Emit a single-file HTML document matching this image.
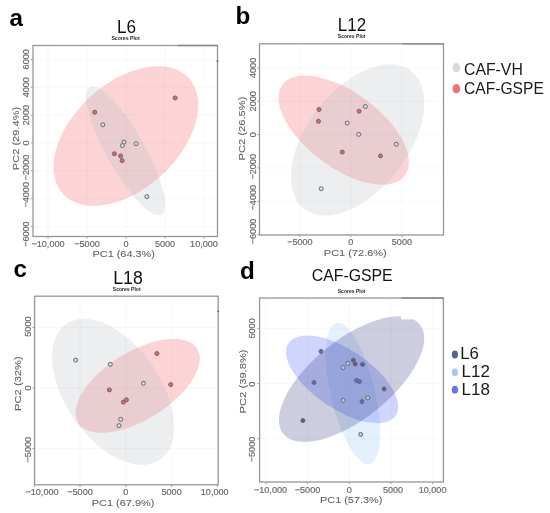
<!DOCTYPE html>
<html><head><meta charset="utf-8"><style>
html,body{margin:0;padding:0;background:#fff;}
svg{display:block;font-family:"Liberation Sans", sans-serif;filter:blur(0.35px);}
</style></head><body>
<svg width="550" height="513" viewBox="0 0 550 513">
<rect width="550" height="513" fill="#fff"/>
<ellipse cx="125.88" cy="136.02" rx="85.55" ry="52.98" transform="rotate(-42.70 125.88 136.02)" fill="#fdd4d6" /><ellipse cx="125.70" cy="150.70" rx="73.17" ry="19.35" transform="rotate(60.77 125.70 150.70)" fill="#eceef0" /><clipPath id="ca"><ellipse cx="125.88" cy="136.02" rx="85.55" ry="52.98" transform="rotate(-42.70 125.88 136.02)" fill="#000" /></clipPath><g clip-path="url(#ca)"><ellipse cx="125.70" cy="150.70" rx="73.17" ry="19.35" transform="rotate(60.77 125.70 150.70)" fill="#eacdd1" /></g>
<line x1="48.00" y1="45.5" x2="48.00" y2="236.5" stroke="rgba(110,110,110,0.055)" stroke-width="0.9"/>
<line x1="87.00" y1="45.5" x2="87.00" y2="236.5" stroke="rgba(110,110,110,0.055)" stroke-width="0.9"/>
<line x1="126.00" y1="45.5" x2="126.00" y2="236.5" stroke="rgba(110,110,110,0.055)" stroke-width="0.9"/>
<line x1="165.00" y1="45.5" x2="165.00" y2="236.5" stroke="rgba(110,110,110,0.055)" stroke-width="0.9"/>
<line x1="204.00" y1="45.5" x2="204.00" y2="236.5" stroke="rgba(110,110,110,0.055)" stroke-width="0.9"/>
<line x1="33" y1="59.30" x2="217.5" y2="59.30" stroke="rgba(110,110,110,0.055)" stroke-width="0.9"/>
<line x1="33" y1="87.20" x2="217.5" y2="87.20" stroke="rgba(110,110,110,0.055)" stroke-width="0.9"/>
<line x1="33" y1="115.10" x2="217.5" y2="115.10" stroke="rgba(110,110,110,0.055)" stroke-width="0.9"/>
<line x1="33" y1="143.00" x2="217.5" y2="143.00" stroke="rgba(110,110,110,0.055)" stroke-width="0.9"/>
<line x1="33" y1="170.90" x2="217.5" y2="170.90" stroke="rgba(110,110,110,0.055)" stroke-width="0.9"/>
<line x1="33" y1="198.80" x2="217.5" y2="198.80" stroke="rgba(110,110,110,0.055)" stroke-width="0.9"/>
<line x1="33" y1="226.70" x2="217.5" y2="226.70" stroke="rgba(110,110,110,0.055)" stroke-width="0.9"/>
<circle cx="102.8" cy="124.8" r="2.0" fill="#dedee0" stroke="#686868" stroke-width="1.0"/><circle cx="123.9" cy="142.1" r="2.0" fill="#dedee0" stroke="#686868" stroke-width="1.0"/><circle cx="122.4" cy="145.6" r="2.0" fill="#dedee0" stroke="#686868" stroke-width="1.0"/><circle cx="136.1" cy="143.7" r="2.0" fill="#dedee0" stroke="#686868" stroke-width="1.0"/><circle cx="146.9" cy="196.7" r="2.0" fill="#dedee0" stroke="#686868" stroke-width="1.0"/><circle cx="175.2" cy="97.9" r="2.0" fill="#e8646c" stroke="#686868" stroke-width="1.0"/><circle cx="94.7" cy="112.2" r="2.0" fill="#e8646c" stroke="#686868" stroke-width="1.0"/><circle cx="114.4" cy="153.7" r="2.0" fill="#e8646c" stroke="#686868" stroke-width="1.0"/><circle cx="120.6" cy="155.9" r="2.0" fill="#e8646c" stroke="#686868" stroke-width="1.0"/><circle cx="122.1" cy="160.6" r="2.0" fill="#e8646c" stroke="#686868" stroke-width="1.0"/>
<rect x="33" y="45.5" width="184.5" height="191.0" fill="none" stroke="#979797" stroke-width="1.3"/>
<line x1="48.00" y1="236.5" x2="48.00" y2="238.7" stroke="#979797" stroke-width="0.9"/>
<line x1="87.00" y1="236.5" x2="87.00" y2="238.7" stroke="#979797" stroke-width="0.9"/>
<line x1="126.00" y1="236.5" x2="126.00" y2="238.7" stroke="#979797" stroke-width="0.9"/>
<line x1="165.00" y1="236.5" x2="165.00" y2="238.7" stroke="#979797" stroke-width="0.9"/>
<line x1="204.00" y1="236.5" x2="204.00" y2="238.7" stroke="#979797" stroke-width="0.9"/>
<line x1="30.8" y1="59.30" x2="33" y2="59.30" stroke="#979797" stroke-width="0.9"/>
<line x1="30.8" y1="87.20" x2="33" y2="87.20" stroke="#979797" stroke-width="0.9"/>
<line x1="30.8" y1="115.10" x2="33" y2="115.10" stroke="#979797" stroke-width="0.9"/>
<line x1="30.8" y1="143.00" x2="33" y2="143.00" stroke="#979797" stroke-width="0.9"/>
<line x1="30.8" y1="170.90" x2="33" y2="170.90" stroke="#979797" stroke-width="0.9"/>
<line x1="30.8" y1="198.80" x2="33" y2="198.80" stroke="#979797" stroke-width="0.9"/>
<line x1="30.8" y1="226.70" x2="33" y2="226.70" stroke="#979797" stroke-width="0.9"/>
<text x="48.00" y="246.80" font-size="9.1" fill="#6a6a6a" text-anchor="middle" stroke="#6c6c6c" stroke-width="0.2">−10,000</text>
<text x="87.00" y="246.80" font-size="9.1" fill="#6a6a6a" text-anchor="middle" stroke="#6c6c6c" stroke-width="0.2">−5000</text>
<text x="126.00" y="246.80" font-size="9.1" fill="#6a6a6a" text-anchor="middle" stroke="#6c6c6c" stroke-width="0.2">0</text>
<text x="165.00" y="246.80" font-size="9.1" fill="#6a6a6a" text-anchor="middle" stroke="#6c6c6c" stroke-width="0.2">5000</text>
<text x="204.00" y="246.80" font-size="9.1" fill="#6a6a6a" text-anchor="middle" stroke="#6c6c6c" stroke-width="0.2">10,000</text>
<text x="29.20" y="59.30" font-size="9.1" fill="#6a6a6a" text-anchor="middle" transform="rotate(-90 29.20 59.30)" stroke="#6c6c6c" stroke-width="0.2">6000</text>
<text x="29.20" y="87.20" font-size="9.1" fill="#6a6a6a" text-anchor="middle" transform="rotate(-90 29.20 87.20)" stroke="#6c6c6c" stroke-width="0.2">4000</text>
<text x="29.20" y="115.10" font-size="9.1" fill="#6a6a6a" text-anchor="middle" transform="rotate(-90 29.20 115.10)" stroke="#6c6c6c" stroke-width="0.2">2000</text>
<text x="29.20" y="143.00" font-size="9.1" fill="#6a6a6a" text-anchor="middle" transform="rotate(-90 29.20 143.00)" stroke="#6c6c6c" stroke-width="0.2">0</text>
<text x="29.20" y="167.50" font-size="9.1" fill="#6a6a6a" text-anchor="middle" transform="rotate(-90 29.20 167.50)" stroke="#6c6c6c" stroke-width="0.2">−2000</text>
<text x="29.20" y="194.80" font-size="9.1" fill="#6a6a6a" text-anchor="middle" transform="rotate(-90 29.20 194.80)" stroke="#6c6c6c" stroke-width="0.2">−4000</text>
<text x="29.20" y="234.10" font-size="9.1" fill="#6a6a6a" text-anchor="middle" transform="rotate(-90 29.20 234.10)" stroke="#6c6c6c" stroke-width="0.2">−6000</text>
<text x="123.70" y="257.20" font-size="9.7" fill="#5f5f5f" text-anchor="middle" textLength="62.20" lengthAdjust="spacingAndGlyphs" stroke="#666" stroke-width="0.08">PC1 (64.3%)</text>
<text x="18.60" y="138.50" font-size="9.7" fill="#5f5f5f" text-anchor="middle" textLength="63.40" lengthAdjust="spacingAndGlyphs" transform="rotate(-90 18.60 138.50)" stroke="#666" stroke-width="0.08">PC2 (29.4%)</text>
<text x="126.50" y="32.90" font-size="18.5" fill="#111" text-anchor="middle" textLength="19.10" lengthAdjust="spacingAndGlyphs" >L6</text>
<text x="125.60" y="40.00" font-size="5.4" fill="#222" text-anchor="middle" font-weight="bold" textLength="28.30" lengthAdjust="spacingAndGlyphs" >Scores Plot</text>
<text x="9.40" y="25.60" font-size="24.2" fill="#000" text-anchor="start" font-weight="bold" >a</text>
<ellipse cx="357.61" cy="139.95" rx="87.23" ry="50.48" transform="rotate(-52.09 357.61 139.95)" fill="#eceef0" /><ellipse cx="343.73" cy="130.11" rx="76.27" ry="37.57" transform="rotate(36.60 343.73 130.11)" fill="#fdd4d6" /><clipPath id="cb"><ellipse cx="357.61" cy="139.95" rx="87.23" ry="50.48" transform="rotate(-52.09 357.61 139.95)" fill="#000" /></clipPath><g clip-path="url(#cb)"><ellipse cx="343.73" cy="130.11" rx="76.27" ry="37.57" transform="rotate(36.60 343.73 130.11)" fill="#eacdd1" /></g>
<line x1="299.90" y1="43.8" x2="299.90" y2="235" stroke="rgba(110,110,110,0.055)" stroke-width="0.9"/>
<line x1="350.90" y1="43.8" x2="350.90" y2="235" stroke="rgba(110,110,110,0.055)" stroke-width="0.9"/>
<line x1="401.90" y1="43.8" x2="401.90" y2="235" stroke="rgba(110,110,110,0.055)" stroke-width="0.9"/>
<line x1="259.5" y1="67.90" x2="443.5" y2="67.90" stroke="rgba(110,110,110,0.055)" stroke-width="0.9"/>
<line x1="259.5" y1="101.25" x2="443.5" y2="101.25" stroke="rgba(110,110,110,0.055)" stroke-width="0.9"/>
<line x1="259.5" y1="134.60" x2="443.5" y2="134.60" stroke="rgba(110,110,110,0.055)" stroke-width="0.9"/>
<line x1="259.5" y1="167.95" x2="443.5" y2="167.95" stroke="rgba(110,110,110,0.055)" stroke-width="0.9"/>
<line x1="259.5" y1="201.30" x2="443.5" y2="201.30" stroke="rgba(110,110,110,0.055)" stroke-width="0.9"/>
<line x1="259.5" y1="234.65" x2="443.5" y2="234.65" stroke="rgba(110,110,110,0.055)" stroke-width="0.9"/>
<circle cx="365.3" cy="106.5" r="2.0" fill="#dedee0" stroke="#686868" stroke-width="1.0"/><circle cx="347.2" cy="123.1" r="2.0" fill="#dedee0" stroke="#686868" stroke-width="1.0"/><circle cx="358.7" cy="134.4" r="2.0" fill="#dedee0" stroke="#686868" stroke-width="1.0"/><circle cx="396.3" cy="144.2" r="2.0" fill="#dedee0" stroke="#686868" stroke-width="1.0"/><circle cx="321.2" cy="188.7" r="2.0" fill="#dedee0" stroke="#686868" stroke-width="1.0"/><circle cx="319.0" cy="109.5" r="2.0" fill="#e8646c" stroke="#686868" stroke-width="1.0"/><circle cx="318.5" cy="121.3" r="2.0" fill="#e8646c" stroke="#686868" stroke-width="1.0"/><circle cx="359.1" cy="111.2" r="2.0" fill="#e8646c" stroke="#686868" stroke-width="1.0"/><circle cx="342.3" cy="152.1" r="2.0" fill="#e8646c" stroke="#686868" stroke-width="1.0"/><circle cx="380.5" cy="155.9" r="2.0" fill="#e8646c" stroke="#686868" stroke-width="1.0"/>
<rect x="259.5" y="43.8" width="184.0" height="191.2" fill="none" stroke="#979797" stroke-width="1.3"/>
<line x1="299.90" y1="235" x2="299.90" y2="237.2" stroke="#979797" stroke-width="0.9"/>
<line x1="350.90" y1="235" x2="350.90" y2="237.2" stroke="#979797" stroke-width="0.9"/>
<line x1="401.90" y1="235" x2="401.90" y2="237.2" stroke="#979797" stroke-width="0.9"/>
<line x1="257.3" y1="67.90" x2="259.5" y2="67.90" stroke="#979797" stroke-width="0.9"/>
<line x1="257.3" y1="101.25" x2="259.5" y2="101.25" stroke="#979797" stroke-width="0.9"/>
<line x1="257.3" y1="134.60" x2="259.5" y2="134.60" stroke="#979797" stroke-width="0.9"/>
<line x1="257.3" y1="167.95" x2="259.5" y2="167.95" stroke="#979797" stroke-width="0.9"/>
<line x1="257.3" y1="201.30" x2="259.5" y2="201.30" stroke="#979797" stroke-width="0.9"/>
<line x1="257.3" y1="234.65" x2="259.5" y2="234.65" stroke="#979797" stroke-width="0.9"/>
<text x="299.90" y="245.20" font-size="9.1" fill="#6a6a6a" text-anchor="middle" stroke="#6c6c6c" stroke-width="0.2">−5000</text>
<text x="350.90" y="245.20" font-size="9.1" fill="#6a6a6a" text-anchor="middle" stroke="#6c6c6c" stroke-width="0.2">0</text>
<text x="401.90" y="245.20" font-size="9.1" fill="#6a6a6a" text-anchor="middle" stroke="#6c6c6c" stroke-width="0.2">5000</text>
<text x="255.60" y="67.90" font-size="9.1" fill="#6a6a6a" text-anchor="middle" transform="rotate(-90 255.60 67.90)" stroke="#6c6c6c" stroke-width="0.2">4000</text>
<text x="255.60" y="101.25" font-size="9.1" fill="#6a6a6a" text-anchor="middle" transform="rotate(-90 255.60 101.25)" stroke="#6c6c6c" stroke-width="0.2">2000</text>
<text x="255.60" y="134.60" font-size="9.1" fill="#6a6a6a" text-anchor="middle" transform="rotate(-90 255.60 134.60)" stroke="#6c6c6c" stroke-width="0.2">0</text>
<text x="255.60" y="166.80" font-size="9.1" fill="#6a6a6a" text-anchor="middle" transform="rotate(-90 255.60 166.80)" stroke="#6c6c6c" stroke-width="0.2">−2000</text>
<text x="255.60" y="197.70" font-size="9.1" fill="#6a6a6a" text-anchor="middle" transform="rotate(-90 255.60 197.70)" stroke="#6c6c6c" stroke-width="0.2">−4000</text>
<text x="255.60" y="231.50" font-size="9.1" fill="#6a6a6a" text-anchor="middle" transform="rotate(-90 255.60 231.50)" stroke="#6c6c6c" stroke-width="0.2">−6000</text>
<text x="355.30" y="256.00" font-size="9.7" fill="#5f5f5f" text-anchor="middle" textLength="63.00" lengthAdjust="spacingAndGlyphs" stroke="#666" stroke-width="0.08">PC1 (72.6%)</text>
<text x="244.80" y="128.50" font-size="9.7" fill="#5f5f5f" text-anchor="middle" textLength="64.00" lengthAdjust="spacingAndGlyphs" transform="rotate(-90 244.80 128.50)" stroke="#666" stroke-width="0.08">PC2 (26.5%)</text>
<text x="352.00" y="31.00" font-size="17.8" fill="#111" text-anchor="middle" textLength="28.30" lengthAdjust="spacingAndGlyphs" >L12</text>
<text x="351.70" y="38.40" font-size="5.4" fill="#222" text-anchor="middle" font-weight="bold" textLength="27.70" lengthAdjust="spacingAndGlyphs" >Scores Plot</text>
<text x="235.60" y="23.80" font-size="24.2" fill="#000" text-anchor="start" font-weight="bold" >b</text>
<ellipse cx="113.08" cy="391.82" rx="82.49" ry="47.43" transform="rotate(55.45 113.08 391.82)" fill="#eceef0" /><ellipse cx="137.72" cy="385.73" rx="70.13" ry="33.79" transform="rotate(-32.03 137.72 385.73)" fill="#fdd4d6" /><clipPath id="cc"><ellipse cx="113.08" cy="391.82" rx="82.49" ry="47.43" transform="rotate(55.45 113.08 391.82)" fill="#000" /></clipPath><g clip-path="url(#cc)"><ellipse cx="137.72" cy="385.73" rx="70.13" ry="33.79" transform="rotate(-32.03 137.72 385.73)" fill="#eacdd1" /></g>
<line x1="34.20" y1="296.2" x2="34.20" y2="484.8" stroke="rgba(110,110,110,0.055)" stroke-width="0.9"/>
<line x1="80.00" y1="296.2" x2="80.00" y2="484.8" stroke="rgba(110,110,110,0.055)" stroke-width="0.9"/>
<line x1="125.80" y1="296.2" x2="125.80" y2="484.8" stroke="rgba(110,110,110,0.055)" stroke-width="0.9"/>
<line x1="171.60" y1="296.2" x2="171.60" y2="484.8" stroke="rgba(110,110,110,0.055)" stroke-width="0.9"/>
<line x1="217.40" y1="296.2" x2="217.40" y2="484.8" stroke="rgba(110,110,110,0.055)" stroke-width="0.9"/>
<line x1="34.6" y1="327.50" x2="218.2" y2="327.50" stroke="rgba(110,110,110,0.055)" stroke-width="0.9"/>
<line x1="34.6" y1="388.00" x2="218.2" y2="388.00" stroke="rgba(110,110,110,0.055)" stroke-width="0.9"/>
<line x1="34.6" y1="448.50" x2="218.2" y2="448.50" stroke="rgba(110,110,110,0.055)" stroke-width="0.9"/>
<circle cx="75.6" cy="360.1" r="2.0" fill="#dedee0" stroke="#686868" stroke-width="1.0"/><circle cx="110.3" cy="364.3" r="2.0" fill="#dedee0" stroke="#686868" stroke-width="1.0"/><circle cx="143.4" cy="383.3" r="2.0" fill="#dedee0" stroke="#686868" stroke-width="1.0"/><circle cx="120.7" cy="419.3" r="2.0" fill="#dedee0" stroke="#686868" stroke-width="1.0"/><circle cx="119.0" cy="425.6" r="2.0" fill="#dedee0" stroke="#686868" stroke-width="1.0"/><circle cx="156.9" cy="353.5" r="2.0" fill="#e8646c" stroke="#686868" stroke-width="1.0"/><circle cx="170.7" cy="384.6" r="2.0" fill="#e8646c" stroke="#686868" stroke-width="1.0"/><circle cx="109.4" cy="389.9" r="2.0" fill="#e8646c" stroke="#686868" stroke-width="1.0"/><circle cx="126.4" cy="399.8" r="2.0" fill="#e8646c" stroke="#686868" stroke-width="1.0"/><circle cx="123.3" cy="402.1" r="2.0" fill="#e8646c" stroke="#686868" stroke-width="1.0"/>
<rect x="34.6" y="296.2" width="183.6" height="188.60000000000002" fill="none" stroke="#979797" stroke-width="1.3"/>
<line x1="34.20" y1="484.8" x2="34.20" y2="487.0" stroke="#979797" stroke-width="0.9"/>
<line x1="80.00" y1="484.8" x2="80.00" y2="487.0" stroke="#979797" stroke-width="0.9"/>
<line x1="125.80" y1="484.8" x2="125.80" y2="487.0" stroke="#979797" stroke-width="0.9"/>
<line x1="171.60" y1="484.8" x2="171.60" y2="487.0" stroke="#979797" stroke-width="0.9"/>
<line x1="217.40" y1="484.8" x2="217.40" y2="487.0" stroke="#979797" stroke-width="0.9"/>
<line x1="32.4" y1="327.50" x2="34.6" y2="327.50" stroke="#979797" stroke-width="0.9"/>
<line x1="32.4" y1="388.00" x2="34.6" y2="388.00" stroke="#979797" stroke-width="0.9"/>
<line x1="32.4" y1="448.50" x2="34.6" y2="448.50" stroke="#979797" stroke-width="0.9"/>
<text x="42.00" y="494.90" font-size="9.1" fill="#6a6a6a" text-anchor="middle" stroke="#6c6c6c" stroke-width="0.2">−10,000</text>
<text x="80.00" y="494.90" font-size="9.1" fill="#6a6a6a" text-anchor="middle" stroke="#6c6c6c" stroke-width="0.2">−5000</text>
<text x="125.80" y="494.90" font-size="9.1" fill="#6a6a6a" text-anchor="middle" stroke="#6c6c6c" stroke-width="0.2">0</text>
<text x="171.60" y="494.90" font-size="9.1" fill="#6a6a6a" text-anchor="middle" stroke="#6c6c6c" stroke-width="0.2">5000</text>
<text x="214.70" y="494.90" font-size="9.1" fill="#6a6a6a" text-anchor="middle" stroke="#6c6c6c" stroke-width="0.2">10,000</text>
<text x="30.60" y="326.60" font-size="9.1" fill="#6a6a6a" text-anchor="middle" transform="rotate(-90 30.60 326.60)" stroke="#6c6c6c" stroke-width="0.2">5000</text>
<text x="30.60" y="388.00" font-size="9.1" fill="#6a6a6a" text-anchor="middle" transform="rotate(-90 30.60 388.00)" stroke="#6c6c6c" stroke-width="0.2">0</text>
<text x="30.60" y="449.70" font-size="9.1" fill="#6a6a6a" text-anchor="middle" transform="rotate(-90 30.60 449.70)" stroke="#6c6c6c" stroke-width="0.2">−5000</text>
<text x="123.10" y="505.50" font-size="9.7" fill="#5f5f5f" text-anchor="middle" textLength="62.70" lengthAdjust="spacingAndGlyphs" stroke="#666" stroke-width="0.08">PC1 (67.9%)</text>
<text x="20.60" y="383.60" font-size="9.7" fill="#5f5f5f" text-anchor="middle" textLength="54.60" lengthAdjust="spacingAndGlyphs" transform="rotate(-90 20.60 383.60)" stroke="#666" stroke-width="0.08">PC2 (32%)</text>
<text x="128.00" y="284.00" font-size="18.3" fill="#111" text-anchor="middle" textLength="29.40" lengthAdjust="spacingAndGlyphs" >L18</text>
<text x="126.70" y="290.80" font-size="5.4" fill="#222" text-anchor="middle" font-weight="bold" textLength="27.80" lengthAdjust="spacingAndGlyphs" >Scores Plot</text>
<text x="13.40" y="277.40" font-size="24.2" fill="#000" text-anchor="start" font-weight="bold" >c</text>
<ellipse cx="352.96" cy="393.55" rx="72.57" ry="22.08" transform="rotate(76.63 352.96 393.55)" fill="rgb(165,208,245)" fill-opacity="0.3"/><ellipse cx="342.12" cy="379.35" rx="64.72" ry="29.62" transform="rotate(34.11 342.12 379.35)" fill="rgb(80,100,250)" fill-opacity="0.27"/><ellipse cx="351.56" cy="379.11" rx="87.52" ry="39.65" transform="rotate(-38.68 351.56 379.11)" fill="rgb(0,10,95)" fill-opacity="0.2"/><rect x="401" y="314.5" width="12" height="4.9" fill="#fff"/>
<line x1="265.80" y1="298" x2="265.80" y2="482" stroke="rgba(110,110,110,0.055)" stroke-width="0.9"/>
<line x1="307.50" y1="298" x2="307.50" y2="482" stroke="rgba(110,110,110,0.055)" stroke-width="0.9"/>
<line x1="349.20" y1="298" x2="349.20" y2="482" stroke="rgba(110,110,110,0.055)" stroke-width="0.9"/>
<line x1="390.90" y1="298" x2="390.90" y2="482" stroke="rgba(110,110,110,0.055)" stroke-width="0.9"/>
<line x1="432.60" y1="298" x2="432.60" y2="482" stroke="rgba(110,110,110,0.055)" stroke-width="0.9"/>
<line x1="259.6" y1="328.40" x2="443.4" y2="328.40" stroke="rgba(110,110,110,0.055)" stroke-width="0.9"/>
<line x1="259.6" y1="383.60" x2="443.4" y2="383.60" stroke="rgba(110,110,110,0.055)" stroke-width="0.9"/>
<line x1="259.6" y1="438.80" x2="443.4" y2="438.80" stroke="rgba(110,110,110,0.055)" stroke-width="0.9"/>
<circle cx="321.0" cy="351.4" r="2.0" fill="#5b66e0" stroke="#686868" stroke-width="1.0"/><circle cx="314.0" cy="382.5" r="2.0" fill="#5b66e0" stroke="#686868" stroke-width="1.0"/><circle cx="356.6" cy="380.4" r="2.0" fill="#5b66e0" stroke="#686868" stroke-width="1.0"/><circle cx="359.4" cy="381.6" r="2.0" fill="#5b66e0" stroke="#686868" stroke-width="1.0"/><circle cx="362.0" cy="401.6" r="2.0" fill="#5b66e0" stroke="#686868" stroke-width="1.0"/><circle cx="343.1" cy="367.6" r="2.0" fill="#a9d2ec" stroke="#686868" stroke-width="1.0"/><circle cx="347.9" cy="363.3" r="2.0" fill="#a9d2ec" stroke="#686868" stroke-width="1.0"/><circle cx="367.8" cy="397.9" r="2.0" fill="#a9d2ec" stroke="#686868" stroke-width="1.0"/><circle cx="343.2" cy="400.4" r="2.0" fill="#a9d2ec" stroke="#686868" stroke-width="1.0"/><circle cx="360.7" cy="434.4" r="2.0" fill="#a9d2ec" stroke="#686868" stroke-width="1.0"/><circle cx="353.3" cy="360.2" r="2.0" fill="#5a5b8c" stroke="#686868" stroke-width="1.0"/><circle cx="355.2" cy="364.0" r="2.0" fill="#5a5b8c" stroke="#686868" stroke-width="1.0"/><circle cx="362.6" cy="364.4" r="2.0" fill="#5a5b8c" stroke="#686868" stroke-width="1.0"/><circle cx="384.1" cy="389.0" r="2.0" fill="#5a5b8c" stroke="#686868" stroke-width="1.0"/><circle cx="302.9" cy="420.6" r="2.0" fill="#5a5b8c" stroke="#686868" stroke-width="1.0"/>
<rect x="259.6" y="298" width="183.79999999999995" height="184" fill="none" stroke="#979797" stroke-width="1.3"/>
<line x1="265.80" y1="482" x2="265.80" y2="484.2" stroke="#979797" stroke-width="0.9"/>
<line x1="307.50" y1="482" x2="307.50" y2="484.2" stroke="#979797" stroke-width="0.9"/>
<line x1="349.20" y1="482" x2="349.20" y2="484.2" stroke="#979797" stroke-width="0.9"/>
<line x1="390.90" y1="482" x2="390.90" y2="484.2" stroke="#979797" stroke-width="0.9"/>
<line x1="432.60" y1="482" x2="432.60" y2="484.2" stroke="#979797" stroke-width="0.9"/>
<line x1="257.40000000000003" y1="328.40" x2="259.6" y2="328.40" stroke="#979797" stroke-width="0.9"/>
<line x1="257.40000000000003" y1="383.60" x2="259.6" y2="383.60" stroke="#979797" stroke-width="0.9"/>
<line x1="257.40000000000003" y1="438.80" x2="259.6" y2="438.80" stroke="#979797" stroke-width="0.9"/>
<text x="270.50" y="493.10" font-size="9.1" fill="#6a6a6a" text-anchor="middle" stroke="#6c6c6c" stroke-width="0.2">−10,000</text>
<text x="307.50" y="493.10" font-size="9.1" fill="#6a6a6a" text-anchor="middle" stroke="#6c6c6c" stroke-width="0.2">−5000</text>
<text x="349.20" y="493.10" font-size="9.1" fill="#6a6a6a" text-anchor="middle" stroke="#6c6c6c" stroke-width="0.2">0</text>
<text x="393.00" y="493.10" font-size="9.1" fill="#6a6a6a" text-anchor="middle" stroke="#6c6c6c" stroke-width="0.2">5000</text>
<text x="432.60" y="493.10" font-size="9.1" fill="#6a6a6a" text-anchor="middle" stroke="#6c6c6c" stroke-width="0.2">10,000</text>
<text x="254.80" y="328.40" font-size="9.1" fill="#6a6a6a" text-anchor="middle" transform="rotate(-90 254.80 328.40)" stroke="#6c6c6c" stroke-width="0.2">5000</text>
<text x="254.80" y="384.20" font-size="9.1" fill="#6a6a6a" text-anchor="middle" transform="rotate(-90 254.80 384.20)" stroke="#6c6c6c" stroke-width="0.2">0</text>
<text x="254.80" y="449.50" font-size="9.1" fill="#6a6a6a" text-anchor="middle" transform="rotate(-90 254.80 449.50)" stroke="#6c6c6c" stroke-width="0.2">−5000</text>
<text x="351.20" y="503.00" font-size="9.7" fill="#5f5f5f" text-anchor="middle" textLength="62.40" lengthAdjust="spacingAndGlyphs" stroke="#666" stroke-width="0.08">PC1 (57.3%)</text>
<text x="245.60" y="381.40" font-size="9.7" fill="#5f5f5f" text-anchor="middle" textLength="64.00" lengthAdjust="spacingAndGlyphs" transform="rotate(-90 245.60 381.40)" stroke="#666" stroke-width="0.08">PC2 (39.8%)</text>
<text x="352.20" y="281.00" font-size="16.6" fill="#111" text-anchor="middle" textLength="80.90" lengthAdjust="spacingAndGlyphs" >CAF-GSPE</text>
<text x="351.60" y="292.60" font-size="5.4" fill="#222" text-anchor="middle" font-weight="bold" textLength="27.70" lengthAdjust="spacingAndGlyphs" >Scores Plot</text>
<text x="240.10" y="279.30" font-size="24.2" fill="#000" text-anchor="start" font-weight="bold" >d</text>
<line x1="178" y1="45.5" x2="217.5" y2="45.5" stroke="#888888" stroke-width="1.3"/>
<line x1="402" y1="43.8" x2="443.5" y2="43.8" stroke="#888888" stroke-width="1.3"/>
<line x1="401.6" y1="298" x2="443.4" y2="298" stroke="#888888" stroke-width="1.3"/>
<line x1="216.6" y1="61.2" x2="218.4" y2="61.2" stroke="#555" stroke-width="1.2"/>
<line x1="217.3" y1="311.3" x2="219.1" y2="311.3" stroke="#555" stroke-width="1.2"/>
<ellipse cx="456.3" cy="67.7" rx="3.9" ry="4.7" fill="#d6d9de"/>
<text x="464.00" y="74.80" font-size="16.4" fill="#1a1a1a" text-anchor="start" textLength="58.80" lengthAdjust="spacingAndGlyphs" >CAF-VH</text>
<ellipse cx="456.4" cy="88.8" rx="3.9" ry="4.7" fill="#ee7373"/>
<text x="464.00" y="94.30" font-size="16.4" fill="#1a1a1a" text-anchor="start" textLength="79.90" lengthAdjust="spacingAndGlyphs" >CAF-GSPE</text>
<ellipse cx="454.9" cy="354.5" rx="3.1" ry="3.9" fill="#5b5f9e"/>
<text x="460.30" y="359.20" font-size="15.7" fill="#1a1a1a" text-anchor="start" textLength="18.60" lengthAdjust="spacingAndGlyphs" >L6</text>
<ellipse cx="454.9" cy="372.3" rx="3.1" ry="3.9" fill="#a3c9f2"/>
<text x="461.60" y="376.60" font-size="15.7" fill="#1a1a1a" text-anchor="start" textLength="28.40" lengthAdjust="spacingAndGlyphs" >L12</text>
<ellipse cx="454.9" cy="389.7" rx="3.1" ry="3.9" fill="#6673ea"/>
<text x="461.60" y="395.30" font-size="15.7" fill="#1a1a1a" text-anchor="start" textLength="28.40" lengthAdjust="spacingAndGlyphs" >L18</text>
</svg>
</body></html>
